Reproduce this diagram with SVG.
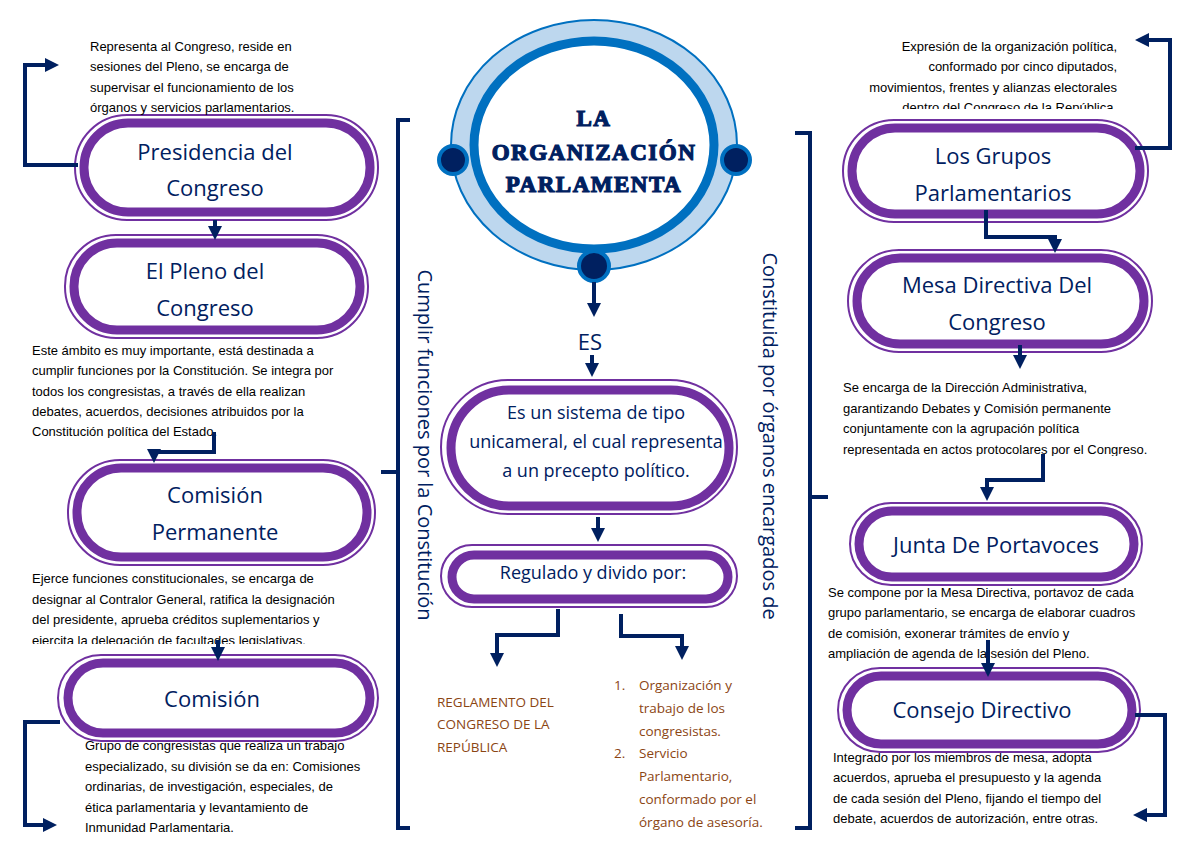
<svg xmlns="http://www.w3.org/2000/svg" width="1200" height="849" viewBox="0 0 1200 849">
<style>
.o{fill:#fff;stroke:#7030A0;stroke-width:2}
.i{fill:#fff;stroke:#7030A0;stroke-width:9}
.t{font-family:"Open Sans","Liberation Sans",sans-serif;font-size:22px;fill:#002060;text-anchor:middle}
.s{font-family:"Liberation Sans",sans-serif;font-size:13px;fill:#000}
.b{font-family:"Open Sans","Liberation Sans",sans-serif;font-size:13.5px;fill:#8B4513}
.c{fill:none;stroke:#002060;stroke-width:4}
.v{font-family:"Open Sans","Liberation Sans",sans-serif;font-size:20px;fill:#002060;text-anchor:middle}
</style>
<defs>
<marker id="a" viewBox="0 0 10 10" refX="5" refY="5" markerWidth="3.5" markerHeight="3.5" orient="auto"><path d="M0,0L10,5L0,10z" fill="#002060"/></marker>
<clipPath id="k1"><rect x="0" y="0" width="400" height="438"/></clipPath>
<clipPath id="k2"><rect x="0" y="560" width="400" height="84"/></clipPath>
<clipPath id="k3"><rect x="800" y="0" width="400" height="109"/></clipPath>
<clipPath id="k4"><rect x="800" y="370" width="400" height="86"/></clipPath>
</defs>
<rect width="1200" height="849" fill="#fff"/>

<g id="title">
<ellipse cx="594" cy="145" rx="143" ry="125" fill="#BDD7EE" stroke="#0070C0" stroke-width="2"/>
<ellipse cx="594" cy="145" rx="120" ry="104" fill="#fff" stroke="#0070C0" stroke-width="9"/>
<circle cx="453" cy="160" r="14" fill="#002060" stroke="#0070C0" stroke-width="4"/>
<circle cx="736" cy="160" r="14" fill="#002060" stroke="#0070C0" stroke-width="4"/>
<circle cx="594" cy="266" r="15" fill="#002060" stroke="#0070C0" stroke-width="4"/>
<g font-family="Liberation Serif,serif" font-weight="bold" font-size="23" fill="#002060" text-anchor="middle" stroke="#002060" stroke-width="1.2" letter-spacing="1.5">
<text x="594" y="126">LA</text><text x="594" y="160">ORGANIZACIÓN</text><text x="594" y="192">PARLAMENTA</text></g>
</g>

<g id="presidencia">
<rect class="o" x="75" y="115" width="303" height="105" rx="52"/>
<rect class="i" x="84" y="123" width="286" height="89" rx="44"/>
<text class="t" x="215" y="160">Presidencia del</text><text class="t" x="215" y="196">Congreso</text>
</g>
<g id="pleno">
<rect class="o" x="65" y="235" width="303" height="103" rx="51"/>
<rect class="i" x="74" y="243" width="286" height="87" rx="43"/>
<text class="t" x="205" y="279">El Pleno del</text><text class="t" x="205" y="316">Congreso</text>
</g>
<g id="permanente">
<rect class="o" x="68" y="460" width="307" height="105" rx="52"/>
<rect class="i" x="77" y="468" width="290" height="89" rx="44"/>
<text class="t" x="215" y="503">Comisión</text><text class="t" x="215" y="540">Permanente</text>
</g>
<g id="comision">
<rect class="o" x="58" y="655" width="320" height="86" rx="43"/>
<rect class="i" x="68" y="663" width="302" height="70" rx="35"/>
<text class="t" x="212" y="707">Comisión</text>
</g>
<g id="grupos">
<rect class="o" x="843" y="120" width="305" height="102" rx="51"/>
<rect class="i" x="852" y="128" width="288" height="86" rx="43"/>
<text class="t" x="993" y="164">Los Grupos</text><text class="t" x="993" y="201">Parlamentarios</text>
</g>
<g id="mesa">
<rect class="o" x="848" y="250" width="304" height="102" rx="51"/>
<rect class="i" x="857" y="258" width="287" height="86" rx="43"/>
<text class="t" x="997" y="293">Mesa Directiva Del</text><text class="t" x="997" y="330">Congreso</text>
</g>
<g id="junta">
<rect class="o" x="850" y="503" width="292" height="82" rx="41"/>
<rect class="i" x="859" y="511" width="275" height="66" rx="33"/>
<text class="t" x="996" y="553">Junta De Portavoces</text>
</g>
<g id="consejo">
<rect class="o" x="838" y="668" width="302" height="84" rx="42"/>
<rect class="i" x="847" y="676" width="285" height="68" rx="34"/>
<text class="t" x="982" y="718">Consejo Directivo</text>
</g>
<g id="sistema">
<rect class="o" x="441" y="380" width="296" height="134" rx="67"/>
<rect class="i" x="451" y="390" width="278" height="116" rx="58"/>
<g class="t" style="font-size:18px"><text x="596" y="419">Es un sistema de tipo</text><text x="596" y="448">unicameral, el cual representa</text><text x="596" y="477">a un precepto político.</text></g>
</g>
<g id="regulado">
<rect class="o" x="441" y="545" width="296" height="62" rx="31"/>
<rect class="i" x="452" y="555" width="276" height="44" rx="22"/>
<text class="t" x="593" y="579" style="font-size:18px">Regulado y divido por:</text>
</g>

<g id="texts">
<g class="s"><text x="90" y="51">Representa al Congreso, reside en</text><text x="90" y="71">sesiones del Pleno, se encarga de</text><text x="90" y="92">supervisar el funcionamiento de los</text><text x="90" y="112">órganos y servicios parlamentarios.</text></g>
<g class="s" clip-path="url(#k1)"><text x="32" y="355">Este ámbito es muy importante, está destinada a</text><text x="32" y="375">cumplir funciones por la Constitución. Se integra por</text><text x="32" y="396">todos los congresistas, a través de ella realizan</text><text x="32" y="416">debates, acuerdos, decisiones atribuidos por la</text><text x="32" y="436">Constitución política del Estado.</text></g>
<g class="s" clip-path="url(#k2)"><text x="32" y="583">Ejerce funciones constitucionales, se encarga de</text><text x="32" y="604">designar al Contralor General, ratifica la designación</text><text x="32" y="624">del presidente, aprueba créditos suplementarios y</text><text x="32" y="645">ejercita la delegación de facultades legislativas.</text></g>
<g class="s"><text x="85" y="750">Grupo de congresistas que realiza un trabajo</text><text x="85" y="771">especializado, su división se da en: Comisiones</text><text x="85" y="791">ordinarias, de investigación, especiales, de</text><text x="85" y="812">ética parlamentaria  y levantamiento de</text><text x="85" y="832">Inmunidad Parlamentaria.</text></g>
<g class="s" text-anchor="end" clip-path="url(#k3)"><text x="1117" y="51">Expresión de la organización política,</text><text x="1117" y="71">conformado por cinco diputados,</text><text x="1117" y="92">movimientos, frentes y alianzas electorales</text><text x="1117" y="112">dentro del Congreso de la República.</text></g>
<g class="s" clip-path="url(#k4)"><text x="843" y="392">Se encarga de la Dirección Administrativa,</text><text x="843" y="413">garantizando Debates y Comisión permanente</text><text x="843" y="433">conjuntamente con la agrupación política</text><text x="843" y="454">representada en actos protocolares por el Congreso.</text></g>
<g class="s"><text x="828" y="597">Se compone por la Mesa Directiva, portavoz de cada</text><text x="828" y="617">grupo parlamentario, se encarga de elaborar cuadros</text><text x="828" y="638">de comisión, exonerar trámites de envío y</text><text x="828" y="658">ampliación de agenda de la sesión del Pleno.</text></g>
<g class="s"><text x="833" y="762">Integrado por los miembros de mesa, adopta</text><text x="833" y="782">acuerdos, aprueba el presupuesto y la agenda</text><text x="833" y="803">de cada sesión del Pleno, fijando el tiempo del</text><text x="833" y="823">debate, acuerdos de autorización, entre otras.</text></g>
<g class="b"><text x="437" y="707">REGLAMENTO DEL</text><text x="437" y="729">CONGRESO DE LA</text><text x="437" y="752">REPÚBLICA</text>
<text x="614" y="690">1.</text><text x="639" y="690">Organización y</text><text x="639" y="713">trabajo de los</text><text x="639" y="736">congresistas.</text>
<text x="614" y="758">2.</text><text x="639" y="758">Servicio</text><text x="639" y="781">Parlamentario,</text><text x="639" y="804">conformado por el</text><text x="639" y="827">órgano de asesoría.</text></g>
<text class="t" x="590" y="350">ES</text>
<text class="v" transform="translate(418,445) rotate(90)">Cumplir funciones por la Constitución</text>
<text class="v" transform="translate(763,436) rotate(90)">Constituida por órganos encargados de</text>
</g>

<g id="connectors">
<path class="c" d="M410,120H398V472H381M398,472V828H410" stroke-width="3.5"/>
<path class="c" d="M795,133H810V497H828M810,497V828H795" stroke-width="3.5"/>
<path class="c" d="M78,165H25V65H52" marker-end="url(#a)"/>
<path class="c" d="M215,220V233" marker-end="url(#a)"/>
<path class="c" d="M214,432V452H154V456" marker-end="url(#a)"/>
<path class="c" d="M218,640V654" marker-end="url(#a)"/>
<path class="c" d="M60,722H25V825H50" marker-end="url(#a)"/>
<path class="c" d="M594,282V310" marker-end="url(#a)"/>
<path class="c" d="M592,355V370" marker-end="url(#a)"/>
<path class="c" d="M598,517V535" stroke-width="2.5" marker-end="url(#a)"/>
<path class="c" d="M558,609V635H497V660" marker-end="url(#a)"/>
<path class="c" d="M621,614V636H682V653" marker-end="url(#a)"/>
<path class="c" d="M1135,148H1170V40H1142" marker-end="url(#a)"/>
<path class="c" d="M986,210V237H1055V246" marker-end="url(#a)"/>
<path class="c" d="M1020,345V362" marker-end="url(#a)"/>
<path class="c" d="M1043,454V480H987V494" marker-end="url(#a)"/>
<path class="c" d="M988,640V670" marker-end="url(#a)"/>
<path class="c" d="M1135,715H1165V815H1140" marker-end="url(#a)"/>
</g>
</svg>
